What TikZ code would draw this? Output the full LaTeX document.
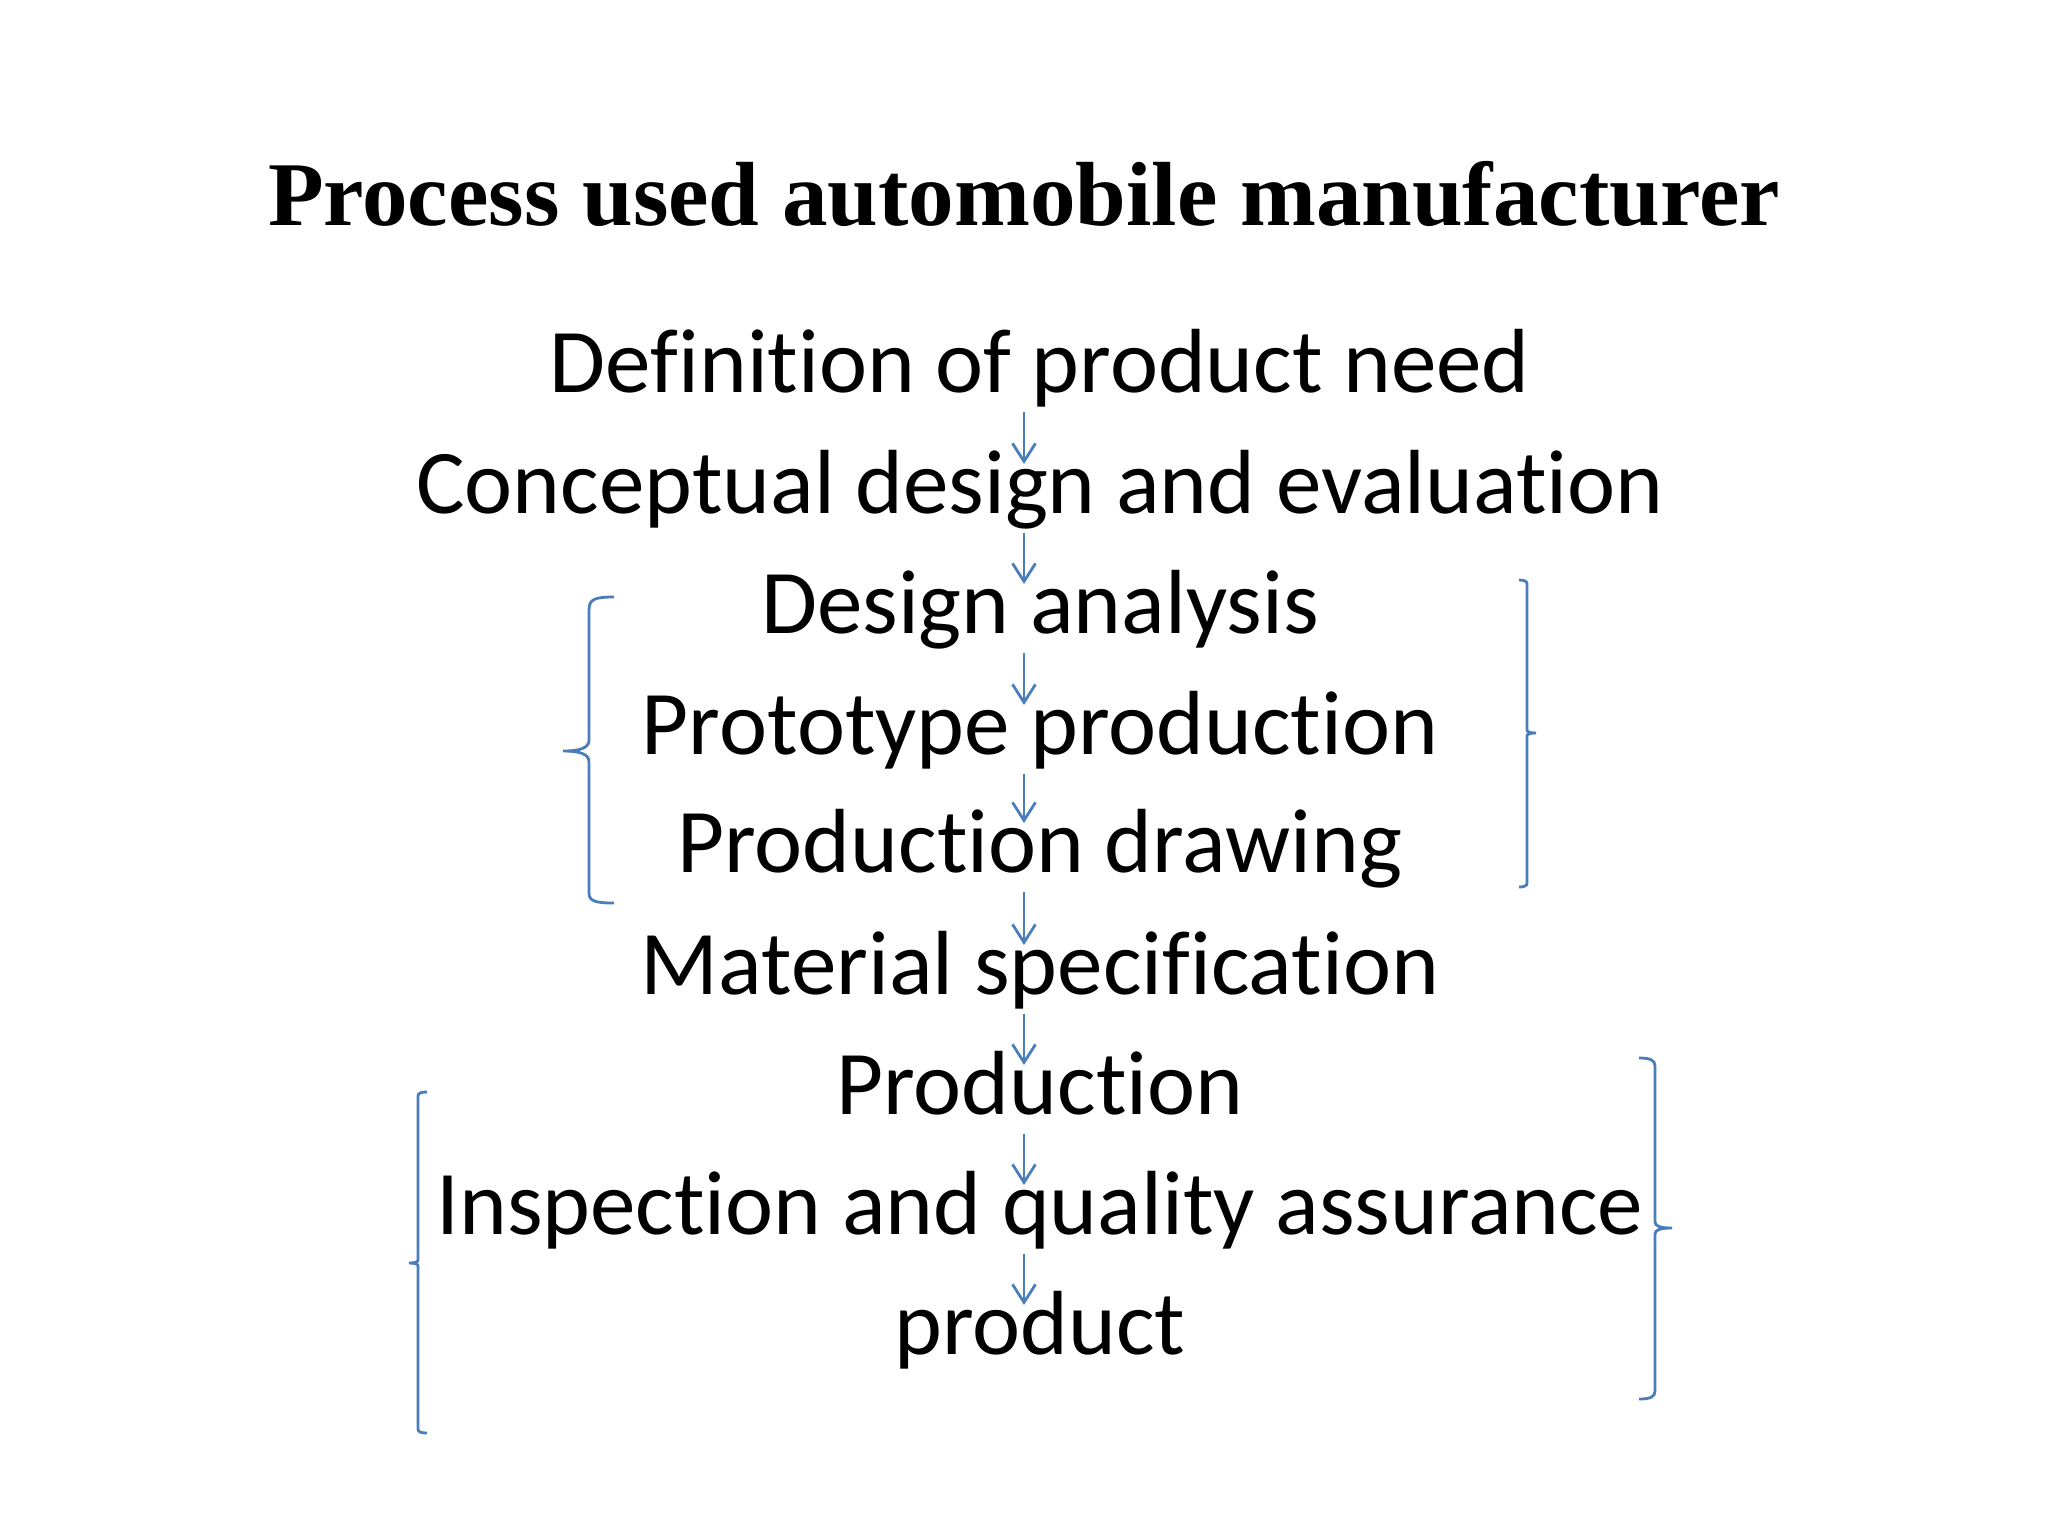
\documentclass[tikz,border=0pt]{standalone}
\usepackage{fontspec}
\setmainfont{Carlito}[Ligatures=NoCommon]
\newfontfamily\titlefont{Liberation Serif}
\usepackage{xcolor}
\usepackage{tikz}
\usetikzlibrary{calc, positioning, arrows.meta}
\definecolor{lineblue}{HTML}{4A7EBB}

\begin{document}
\begin{tikzpicture}[x=0.01cm, y=-0.01cm, line width=0.08cm]
				\tikzset{flow/.style={-{Straight Barb[length=1.8mm, width=2.3mm]}, lineblue, line width=0.28mm}}
				\tikzset{stage/.style={anchor=base, inner sep=0pt, text height=4.5mm, text depth=1.6mm, font=\fontsize{25.9}{30}\selectfont}}
				\tikzset{brace/.style={lineblue, line width=0.28mm}}
				\useasboundingbox (0,0) rectangle (2048,1536);

				\node (title) [anchor=base, inner sep=0pt, font=\titlefont\bfseries\fontsize{25.9}{32}\selectfont] at (1024,225) {Process used automobile manufacturer};

				\node (l1) [stage] at (1040,392) {Definition of product need};
				\node (l2) [stage] at (1040,513) {Conceptual design and evaluation};
				\node (l3) [stage] at (1040,633) {Design analysis};
				\node (l4) [stage] at (1040,754) {Prototype production};
				\node (l5) [stage] at (1040,872) {Production drawing};
				\node (l6) [stage] at (1040,994) {Material specification};
				\node (l7) [stage] at (1040,1114) {Production};
				\node (l8) [stage] at (1040,1234) {Inspection and quality assurance};
				\node (l9) [stage] at (1040,1354) {product};

				\coordinate (ax) at (1024,0);
				\foreach \a/\b in {l1/l2, l2/l3, l3/l4, l4/l5, l5/l6, l6/l7, l7/l8, l8/l9}
					\draw [flow] (\a.south -| ax) -- (\b.north -| ax);

				% braces round the design loop
				\draw [brace] (614,597) .. controls (595,597) and (589,599) .. (589,610) -- (589,740) .. controls (589,748) and (580,751) .. (563,751) .. controls (580,751) and (589,754) .. (589,762) -- (589,893) .. controls (589,901) and (595,903) .. (614,903);
				\draw [brace] (1519,580) .. controls (1524,580) and (1527,581) .. (1527,584) -- (1527,730) .. controls (1527,732) and (1530,733) .. (1536,733) .. controls (1530,733) and (1527,734) .. (1527,736) -- (1527,883) .. controls (1527,886) and (1524,887) .. (1519,887);
				% braces round production
				\draw [brace] (427,1092) .. controls (421,1092) and (418,1093) .. (418,1096) -- (418,1260) .. controls (418,1262) and (415,1263) .. (409,1263) .. controls (415,1263) and (418,1264) .. (418,1266) -- (418,1429) .. controls (418,1432) and (421,1433) .. (427,1433);
				\draw [brace] (1639,1058) .. controls (1650,1058) and (1655,1060) .. (1655,1066) -- (1655,1222) .. controls (1655,1226) and (1660,1228) .. (1672,1228) .. controls (1660,1228) and (1655,1230) .. (1655,1234) -- (1655,1391) .. controls (1655,1397) and (1650,1399) .. (1639,1399);
			\end{tikzpicture}
\end{document}
